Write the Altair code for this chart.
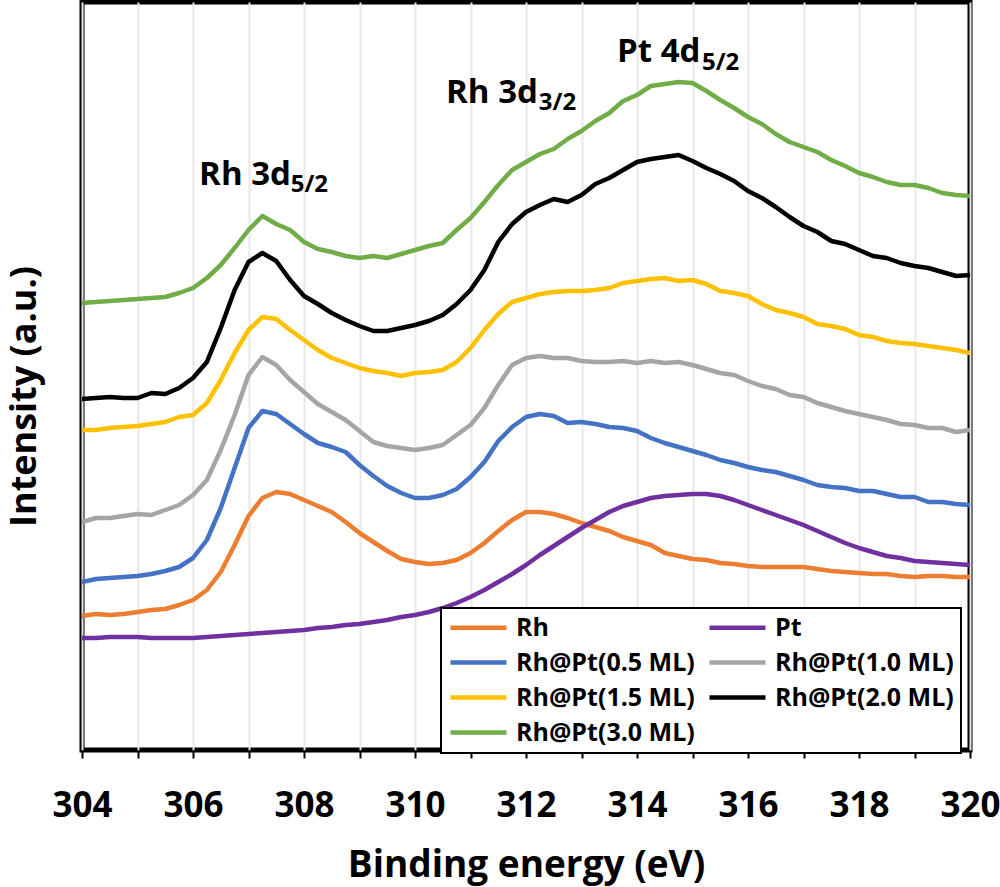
import altair as alt
import numpy as np
import pandas as pd

# Binding energy axis of the XPS scans (eV)
energy = np.arange(304.0, 320.001, 0.25)

series_names = ["Rh", "Pt", "Rh@Pt(0.5 ML)", "Rh@Pt(1.0 ML)",
                "Rh@Pt(1.5 ML)", "Rh@Pt(2.0 ML)", "Rh@Pt(3.0 ML)"]
series_colors = ["#ED7D31", "#7030A0", "#4472C4", "#A5A5A5",
                 "#FFC000", "#000000", "#70AD47"]

# Intensities (a.u., stacked with vertical offsets)
rh = [134, 136, 135, 136, 138, 140, 141, 145, 150, 160,
      178, 205, 234, 252, 258, 256, 250, 244, 238, 228,
      217, 208, 199, 191, 188, 186, 187, 190, 197, 207,
      219, 230, 238, 238, 236, 232, 227, 223, 219, 213,
      209, 205, 197, 194, 191, 190, 187, 186, 184, 183,
      183, 183, 183, 181, 179, 178, 177, 176, 176, 174,
      173, 174, 174, 173, 173]

pt = [112, 112, 113, 113, 113, 112, 112, 112, 112, 113,
      114, 115, 116, 117, 118, 119, 120, 122, 123, 125,
      126, 128, 130, 133, 135, 138, 142, 147, 153, 160,
      168, 176, 185, 195, 204, 213, 222, 230, 238, 244,
      248, 252, 254, 255, 256, 256, 254, 250, 245, 240,
      235, 230, 225, 219, 213, 207, 202, 198, 194, 192,
      189, 188, 187, 186, 185]

rhpt_05 = [168, 171, 172, 173, 174, 176, 179, 183, 192, 210,
           242, 282, 322, 339, 336, 326, 316, 307, 303, 298,
           285, 274, 264, 257, 252, 252, 255, 261, 273, 288,
           309, 323, 333, 336, 334, 327, 328, 326, 323, 322,
           319, 312, 307, 303, 299, 295, 290, 287, 283, 280,
           278, 274, 270, 265, 263, 262, 259, 259, 256, 253,
           253, 248, 248, 246, 245]

rhpt_10 = [228, 232, 232, 234, 236, 235, 240, 245, 255, 270,
           300, 335, 375, 393, 385, 370, 358, 346, 338, 330,
           319, 308, 304, 302, 300, 302, 305, 315, 325, 342,
           365, 385, 392, 394, 392, 392, 389, 388, 388, 389,
           387, 389, 387, 388, 385, 381, 377, 375, 369, 364,
           361, 355, 353, 347, 343, 339, 336, 333, 330, 326,
           325, 322, 322, 318, 320]

rhpt_15 = [320, 320, 322, 323, 324, 326, 328, 333, 335, 347,
           370, 397, 420, 433, 431, 420, 410, 400, 392, 387,
           382, 379, 377, 374, 377, 378, 380, 388, 402, 420,
           436, 448, 452, 456, 458, 459, 459, 460, 462, 467,
           469, 471, 472, 469, 470, 466, 459, 457, 454, 446,
           440, 437, 433, 426, 424, 421, 415, 413, 409, 407,
           406, 404, 402, 400, 397]

rhpt_20 = [351, 352, 353, 352, 352, 357, 356, 362, 372, 388,
           422, 460, 488, 497, 489, 470, 454, 446, 437, 430,
           424, 419, 419, 422, 425, 429, 435, 446, 460, 480,
           508, 526, 538, 545, 551, 548, 555, 566, 572, 580,
           588, 591, 593, 595, 589, 582, 576, 569, 559, 552,
           543, 533, 524, 518, 509, 506, 500, 494, 492, 487,
           484, 482, 478, 474, 475]

rhpt_30 = [447, 448, 449, 450, 451, 452, 453, 457, 462, 472,
           485, 502, 520, 534, 526, 520, 508, 501, 498, 494,
           492, 494, 492, 496, 500, 504, 507, 520, 532, 548,
           565, 580, 588, 596, 601, 611, 619, 629, 637, 649,
           655, 664, 666, 668, 667, 659, 650, 642, 633, 626,
           616, 608, 603, 598, 590, 584, 577, 573, 568, 565,
           565, 562, 557, 555, 554]

all_series = [rh, pt, rhpt_05, rhpt_10, rhpt_15, rhpt_20, rhpt_30]

# Legend fills column by column: left column first, then right column
legend_order = ["Rh", "Rh@Pt(0.5 ML)", "Rh@Pt(1.5 ML)", "Rh@Pt(3.0 ML)",
                "Pt", "Rh@Pt(1.0 ML)", "Rh@Pt(2.0 ML)"]
legend_colors = [series_colors[series_names.index(n)] for n in legend_order]

# Peak labels: main text and subscript, anchored in data coordinates
peak_main = ["Rh 3d", "Rh 3d", "Pt 4d"]
peak_main_e = [306.11, 310.56, 313.64]
peak_main_i = [565, 647, 688]
peak_sub = ["5/2", "3/2", "5/2"]
peak_sub_e = [307.76, 312.23, 315.17]
peak_sub_i = [558, 640, 680]

frames = []
for order, (name, vals) in enumerate(zip(series_names, all_series)):
    frames.append(pd.DataFrame({"energy": energy, "intensity": vals,
                                "series": name, "order": order}))
spectra = pd.concat(frames, ignore_index=True)

main_df = pd.DataFrame({"text": peak_main, "energy": peak_main_e, "intensity": peak_main_i})
sub_df = pd.DataFrame({"text": peak_sub, "energy": peak_sub_e, "intensity": peak_sub_i})

FONT = "Open Sans"

x_scale = alt.Scale(domain=[304, 320], nice=False, zero=False)
y_scale = alt.Scale(domain=[0, 748], nice=False, zero=False)

tick_values = [float(v) for v in np.arange(304.0, 320.001, 0.5)]

x_axis = alt.Axis(
    title="Binding energy (eV)",
    values=tick_values,
    format="d",
    labelExpr="datum.value % 2 === 0 ? format(datum.value, 'd') : ''",
    labelOverlap=False,
    labelFlush=False,
    labelFont=FONT, labelFontSize=35, labelFontWeight="bold", labelColor="black",
    labelBaseline="alphabetic", labelPadding=58,
    ticks=True, tickSize=8, tickWidth=2, tickColor="black",
    domain=False,
    grid=True, gridColor="#e8e8e8", gridWidth=2,
    titleFont=FONT, titleFontSize=37, titleFontWeight="bold", titleColor="black",
    titleBaseline="alphabetic", titleY=126,
)

y_axis = alt.Axis(
    title="Intensity (a.u.)",
    labels=False, ticks=False, domain=False, grid=False,
    titleFont=FONT, titleFontSize=36, titleFontWeight="bold", titleColor="black",
    titleAngle=270, titleAlign="center", titleBaseline="alphabetic",
    titleX=-47, titleY=394,
)

lines = alt.Chart(spectra).mark_line(
    strokeWidth=4.5, strokeJoin="round", strokeCap="round", clip=True
).encode(
    x=alt.X("energy:Q", scale=x_scale, axis=x_axis),
    y=alt.Y("intensity:Q", scale=y_scale, axis=y_axis),
    color=alt.Color(
        "series:N",
        scale=alt.Scale(domain=legend_order, range=legend_colors),
        legend=alt.Legend(
            title=None, orient="none", legendX=359, legendY=606,
            columns=2, columnPadding=12, rowPadding=9, padding=7,
            clipHeight=25,
            symbolType="stroke", symbolSize=3136, symbolStrokeWidth=4.5,
            labelFont=FONT, labelFontSize=25, labelFontWeight="bold",
            labelColor="black", labelOffset=7, labelLimit=400,
            fillColor="white", strokeColor="black",
        ),
    ),
    order=alt.Order("order:Q"),
    detail="series:N",
)

main_text = alt.Chart(main_df).mark_text(
    font=FONT, fontSize=33, fontWeight="bold", color="black",
    align="left", baseline="alphabetic"
).encode(
    x=alt.X("energy:Q", scale=x_scale),
    y=alt.Y("intensity:Q", scale=y_scale),
    text="text:N",
)

sub_text = alt.Chart(sub_df).mark_text(
    font=FONT, fontSize=24, fontWeight="bold", color="black",
    align="left", baseline="alphabetic"
).encode(
    x=alt.X("energy:Q", scale=x_scale),
    y=alt.Y("intensity:Q", scale=y_scale),
    text="text:N",
)

chart = alt.layer(lines, main_text, sub_text).properties(
    width=888, height=748,
    autosize=alt.AutoSizeParams(type="none"),
    padding={"left": 82, "top": 2, "right": 30, "bottom": 137},
    background="white",
).configure_view(
    stroke="black", strokeWidth=5,
).configure_legend(
    strokeWidth=2,
)

chart.save("out.html", embed_options={"renderer": "svg", "actions": False})
